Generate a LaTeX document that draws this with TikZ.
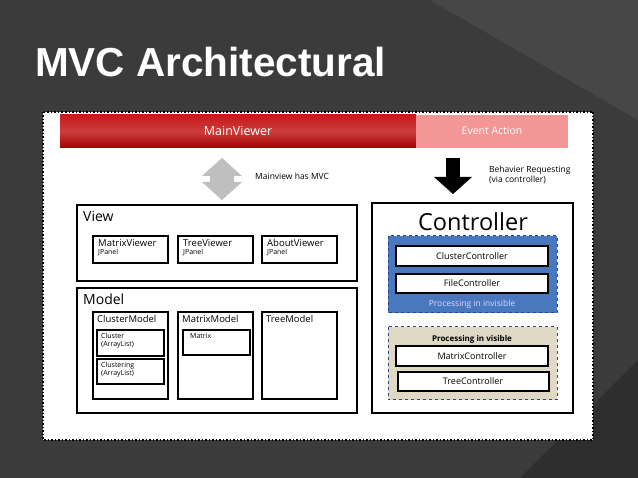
\documentclass[tikz,border=0pt]{standalone}
\usepackage{fontspec}
\setmainfont{Open Sans}
\newfontfamily\titlefont{Liberation Sans}
\begin{document}
\begin{tikzpicture}[x=1pt,y=-1pt,
 thick box/.style={draw=black,line width=2.6pt,fill=white},
 sub/.style={draw=black,line width=1.5pt,fill=white},
 lbl/.style={font=\fontsize{8.5}{10}\selectfont,inner sep=0pt},
 ctl/.style={font=\fontsize{9}{10}\selectfont}]
\fill[black!77] (0,0) rectangle (638,478);
\fill[black!72] (430,0) -- (638,0) -- (638,120) -- cycle;
\fill[black!82] (520,478) -- (638,360) -- (638,478) -- cycle;
\node[anchor=west,text=white,font=\titlefont\bfseries\fontsize{40.5}{44}\selectfont,inner sep=0pt] (title) at (35,62) {MVC Architectural};
\draw[fill=white,line width=1.5pt,dotted] (43,112) rectangle (593,440);
\shade[top color=red!75!black!90,bottom color=red!65!black,middle color=red!70!white!80!black] (60,115) rectangle (416,148);
\fill[red!40!white!90!gray] (416,115) rectangle (568,148);
\node[text=white,font=\fontsize{12.5}{14}\selectfont] (mv) at (238,131) {MainViewer};
\node[text=white,font=\fontsize{10.5}{12}\selectfont] (ea) at (492,131) {Event Action};
\fill[black!25] (222,158) -- (242,176) -- (234,176) -- (234,182) -- (242,182) -- (222,200) -- (202,182) -- (210,182) -- (210,176) -- (202,176) -- cycle;
\node[lbl,anchor=west] (mvc) at (255,176) {Mainview has MVC};
\fill[black] (446,158) rectangle (460,177);
\fill[black] (434,177) -- (472,177) -- (453,194) -- cycle;
\node[lbl,anchor=west,align=left] (br) at (489,175) {Behavier Requesting\\(via controller)};
% View
\draw[thick box] (77,205) rectangle (357,281);
\node[anchor=west,inner sep=0pt,font=\fontsize{14}{15}\selectfont] (view) at (83,216) {View};
\foreach \x/\t in {93/MatrixViewer,178/TreeViewer,262/AboutViewer}{
 \draw[sub] (\x,236) rectangle ++(75,27);
 \node[anchor=north west,inner sep=0pt,align=left,font=\fontsize{9.5}{9}\selectfont] at (\x+5,239) {\t\\[-1pt]{\fontsize{7}{7}\selectfont JPanel}};
}
% Model
\draw[thick box] (77,288) rectangle (357,413);
\node[anchor=west,inner sep=0pt,font=\fontsize{14}{15}\selectfont] (model) at (83,299) {Model};
\foreach \x/\t in {93/ClusterModel,178/MatrixModel,262/TreeModel}{
 \draw[sub,line width=1.2pt] (\x,312) rectangle ++(75,87);
 \node[anchor=north west,inner sep=0pt,font=\fontsize{9.5}{9}\selectfont] at (\x+4,315) {\t};
}
\draw[sub] (97,330) rectangle (164,356);
\node[anchor=north west,inner sep=0pt,align=left,font=\fontsize{7}{8}\selectfont] (cl) at (101,333) {Cluster\\(ArrayList)};
\draw[sub] (97,359) rectangle (164,384);
\node[anchor=north west,inner sep=0pt,align=left,font=\fontsize{7}{8}\selectfont] (clg) at (101,362) {Clustering\\(ArrayList)};
\draw[sub] (183,330) rectangle (250,355);
\node[anchor=north west,inner sep=0pt,font=\fontsize{7}{8}\selectfont] (mx) at (190,333) {Matrix};
% Controller
\draw[thick box] (372,203) rectangle (573,413);
\node[font=\fontsize{23.5}{26}\selectfont] (ctrl) at (473,222) {Controller};
\draw[fill={rgb,255:red,74;green,120;blue,190},draw={rgb,255:red,40;green,70;blue,130},dashed,line width=1pt] (388,236) rectangle (557,313);
\draw[fill={rgb,255:red,222;green,216;blue,196},draw={rgb,255:red,40;green,70;blue,130},dashed,line width=1pt] (388,327) rectangle (557,400);
\draw[sub] (396,246) rectangle (548,266);
\node[ctl] (cc) at (472,256) {ClusterController};
\draw[sub] (396,274) rectangle (548,293);
\node[ctl] (fc) at (472,283.5) {FileController};
\node[lbl,text=white!85!blue] (pi) at (472,304) {Processing in invisible};
\node[lbl,font=\bfseries\fontsize{8}{9}\selectfont] (pv) at (472,339) {Processing in visible};
\draw[sub] (396,346) rectangle (548,366);
\node[ctl] (mc) at (472,356) {MatrixController};
\draw[sub] (398,372) rectangle (549,391);
\node[ctl] (tc) at (473,381.5) {TreeController};
\end{tikzpicture}
\end{document}
